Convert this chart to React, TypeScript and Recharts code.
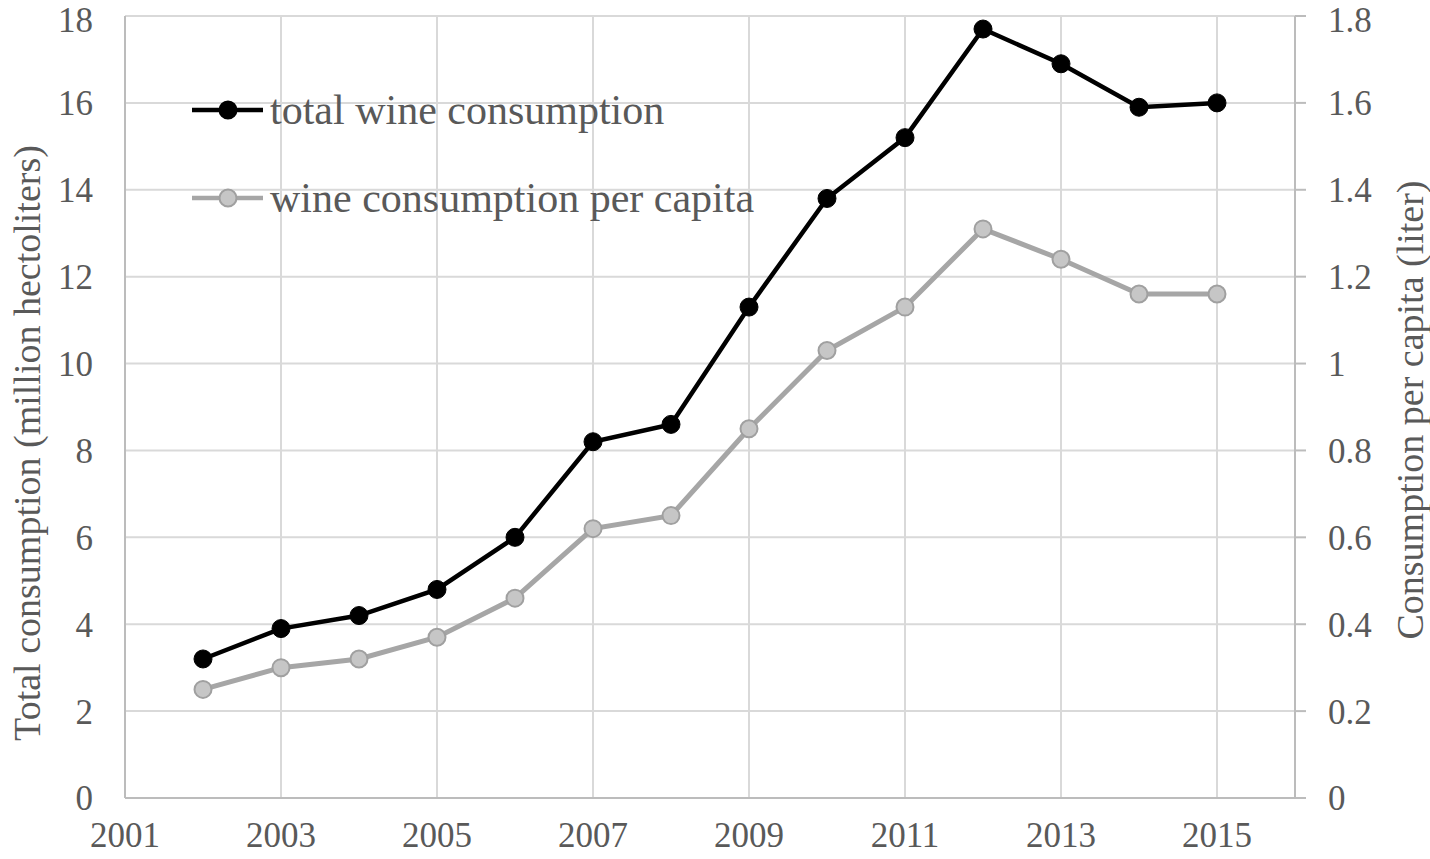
import React from "react";
import { LineChart, Line, XAxis, YAxis, CartesianGrid, Legend } from "recharts";

const years = [2002, 2003, 2004, 2005, 2006, 2007, 2008, 2009, 2010, 2011, 2012, 2013, 2014, 2015];
const totalConsumption = [3.2, 3.9, 4.2, 4.8, 6.0, 8.2, 8.6, 11.3, 13.8, 15.2, 17.7, 16.9, 15.9, 16.0];
const perCapita = [0.25, 0.3, 0.32, 0.37, 0.46, 0.62, 0.65, 0.85, 1.03, 1.13, 1.31, 1.24, 1.16, 1.16];
const xTicks = [2001, 2003, 2005, 2007, 2009, 2011, 2013, 2015];
const leftTicks = [0, 2, 4, 6, 8, 10, 12, 14, 16, 18];
const rightTicks = [0, 0.2, 0.4, 0.6, 0.8, 1, 1.2, 1.4, 1.6, 1.8];
const seriesNames = ["total wine consumption", "wine consumption per capita"];
const axisTitles = ["Total consumption (million hectoliters)", "Consumption per capita (liter)"];

const data = years.map((y, i) => ({ year: y, total: totalConsumption[i], perCapita: perCapita[i] }));

const FONT = "'Liberation Serif', 'Times New Roman', serif";
const TEXT = "#595959";
const GRID = "#d9d9d9";
const AXIS = "#bcbcbc";

const LegendContent = () => {
  const items = [
    { name: seriesNames[0], stroke: "#000000", fill: "#000000", mstroke: "#000000" },
    { name: seriesNames[1], stroke: "#a6a6a6", fill: "#c6c6c6", mstroke: "#a0a0a0" },
  ];
  return (
    <div style={{ fontFamily: FONT, fontSize: 42, color: TEXT }}>
      {items.map((it, i) => (
        <div key={i} style={{ display: "flex", alignItems: "center", height: 88 }}>
          <svg width={80} height={24}>
            <line x1={2} y1={12} x2={73} y2={12} stroke={it.stroke} strokeWidth={4.5} />
            <circle cx={38} cy={12} r={8.5} fill={it.fill} stroke={it.mstroke} strokeWidth={2} />
          </svg>
          <span style={{ lineHeight: "42px", whiteSpace: "nowrap" }}>{it.name}</span>
        </div>
      ))}
    </div>
  );
};

const LeftTitle = (props: any) => {
  const vb = props.viewBox || {};
  const cx = (vb.x || 0) + 27;
  const cy = (vb.y || 0) + (vb.height || 0) / 2 + 36;
  return (
    <text
      x={cx}
      y={cy}
      transform={`rotate(-90 ${cx} ${cy})`}
      textAnchor="middle"
      dominantBaseline="central"
      fill={TEXT}
      fontSize={38}
      fontFamily={FONT}
    >
      {axisTitles[0]}
    </text>
  );
};

const RightTitle = (props: any) => {
  const vb = props.viewBox || {};
  const cx = (vb.x || 0) + (vb.width || 0) - 20;
  const cy = (vb.y || 0) + (vb.height || 0) / 2 + 3;
  return (
    <text
      x={cx}
      y={cy}
      transform={`rotate(-90 ${cx} ${cy})`}
      textAnchor="middle"
      dominantBaseline="central"
      fill={TEXT}
      fontSize={38}
      fontFamily={FONT}
    >
      {axisTitles[1]}
    </text>
  );
};

export default function App() {
  return (
    <div style={{ position: "absolute", left: 0, top: 0, width: 1430, height: 859, background: "#fff" }}>
      <LineChart width={1430} height={859} data={data} margin={{ top: 16, right: 0, bottom: 0, left: 0 }}>
        <CartesianGrid stroke={GRID} strokeWidth={2} horizontal={true} vertical={true} yAxisId="left" />
        <XAxis
          dataKey="year"
          type="number"
          domain={[2001, 2016]}
          ticks={xTicks}
          height={61}
          tickLine={false}
          tickSize={0}
          axisLine={{ stroke: AXIS, strokeWidth: 2 }}
          tick={{ fill: TEXT, fontSize: 35, fontFamily: FONT }}
          tickMargin={24}
          allowDataOverflow
        />
        <YAxis
          yAxisId="left"
          orientation="left"
          domain={[0, 18]}
          ticks={leftTicks}
          width={125}
          tickLine={false}
          tickSize={0}
          tickMargin={32}
          axisLine={{ stroke: AXIS, strokeWidth: 2 }}
          tick={{ fill: TEXT, fontSize: 35, fontFamily: FONT }}
          label={<LeftTitle />}
        />
        <YAxis
          yAxisId="right"
          orientation="right"
          domain={[0, 1.8]}
          ticks={rightTicks}
          width={135}
          tickSize={11}
          tickMargin={22}
          tickLine={{ stroke: AXIS, strokeWidth: 2 }}
          axisLine={{ stroke: AXIS, strokeWidth: 2 }}
          tick={{ fill: TEXT, fontSize: 35, fontFamily: FONT }}
          label={<RightTitle />}
        />
        <Legend
          layout="vertical"
          align="center"
          verticalAlign="middle"
          content={<LegendContent />}
          wrapperStyle={{ position: "absolute", left: 190, top: 66, width: "auto", height: "auto" }}
        />
        <Line
          yAxisId="left"
          type="linear"
          dataKey="total"
          name={seriesNames[0]}
          stroke="#000000"
          strokeWidth={4.5}
          dot={{ r: 9, fill: "#000000", stroke: "#000000", strokeWidth: 1 }}
          activeDot={false}
          isAnimationActive={false}
        />
        <Line
          yAxisId="right"
          type="linear"
          dataKey="perCapita"
          name={seriesNames[1]}
          stroke="#a6a6a6"
          strokeWidth={5}
          dot={{ r: 8.5, fill: "#c6c6c6", stroke: "#a0a0a0", strokeWidth: 2 }}
          activeDot={false}
          isAnimationActive={false}
        />
      </LineChart>
    </div>
  );
}
